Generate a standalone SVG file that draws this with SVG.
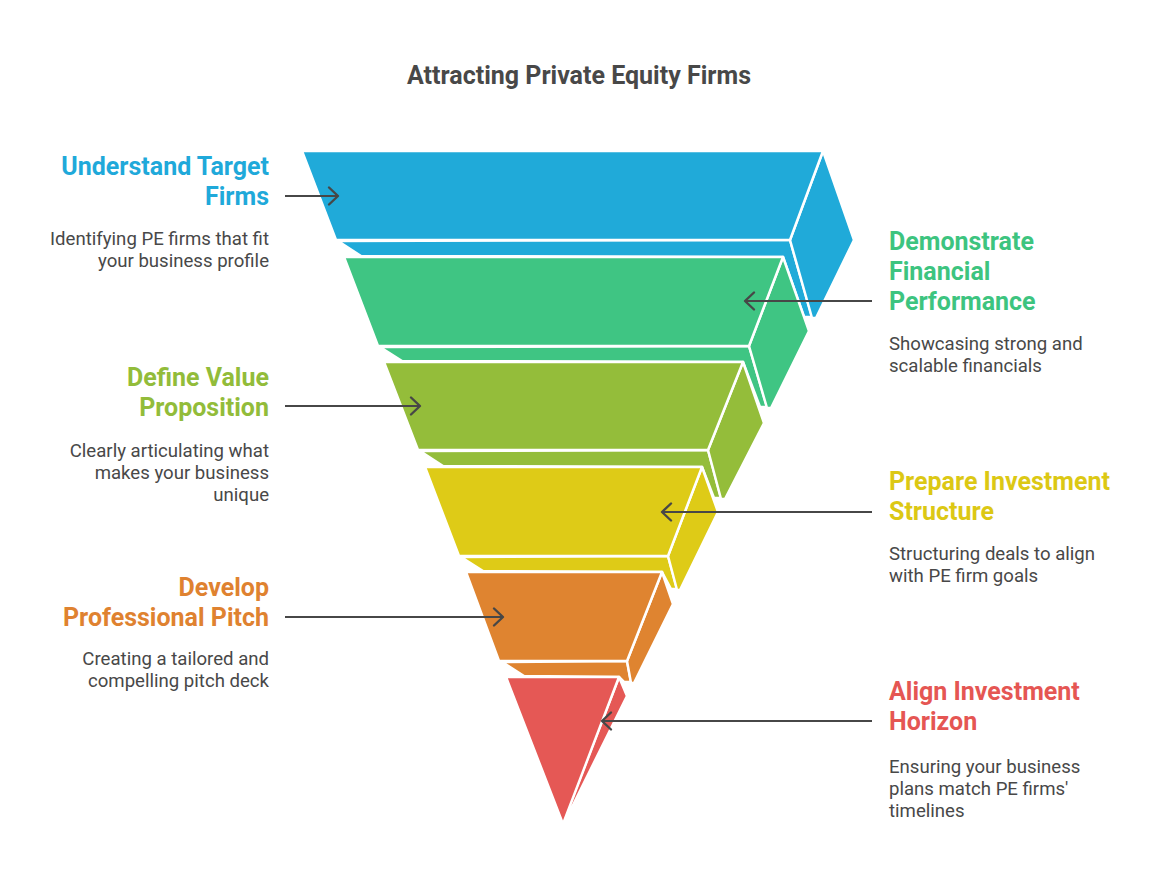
<svg xmlns="http://www.w3.org/2000/svg" width="1158" height="888" viewBox="0 0 1158 888">
<defs>
<style>
.face{stroke:#ffffff;stroke-width:2.5;stroke-linejoin:round}
.b{fill:#20AAD9}.g{fill:#3FC583}.o{fill:#94BD3A}.y{fill:#DECB17}.r{fill:#DF8430}.e{fill:#E55855}
.title{font-family:Roboto,"Liberation Sans",sans-serif;font-weight:bold;font-size:25px;fill:#484848}
.lab{font-family:Roboto,"Liberation Sans",sans-serif;font-weight:bold;font-size:25px}
.desc{font-family:Roboto,"Liberation Sans",sans-serif;font-size:18.6px;fill:#484848}
.conn{stroke:#474747;stroke-width:2;fill:none}
</style>
<marker id="arr" markerUnits="userSpaceOnUse" markerWidth="14" markerHeight="22" viewBox="0 0 14 22" refX="12" refY="11" orient="auto">
<path d="M3,2.5 L12,11 L3,19.5" fill="none" stroke="#474747" stroke-width="2.4" stroke-linecap="round" stroke-linejoin="round"/>
</marker>
</defs>
<rect width="1158" height="888" fill="#ffffff"/>
<text class="title" x="579" y="84" text-anchor="middle">Attracting Private Equity Firms</text>

<g id="layer-1">
<polygon class="face b" points="338,241 790,240 812,317 804,317 783,257 361,256"/>
<polygon class="face b" points="823,151 854,240 816,318 812,318 790,240"/>
<polygon class="face b" points="302,151 823,151 790,240 336,240"/>
</g>
<g id="layer-2">
<polygon class="face g" points="380,347 749,346 767,407 760,407 743,362 402,361"/>
<polygon class="face g" points="783,257 809,331 771,408 767,408 749,346"/>
<polygon class="face g" points="344,257 783,257 749,346 378,346"/>
</g>
<g id="layer-3">
<polygon class="face o" points="420,451 708,450 721,498 714,498 702,467 443,466"/>
<polygon class="face o" points="743,362 764,423 725,499 721,499 708,450"/>
<polygon class="face o" points="384,362 743,362 708,450 418,450"/>
</g>
<g id="layer-4">
<polygon class="face y" points="461,557 668,556 677,589 671,589 662,572 483,571"/>
<polygon class="face y" points="702,467 718,512 680,590 677,590 668,556"/>
<polygon class="face y" points="425,467 702,467 668,556 459,556"/>
</g>
<g id="layer-5">
<polygon class="face r" points="502,662 627,661 631,682 624,682 619,677 524,676"/>
<polygon class="face r" points="662,572 673,604 634,683 631,683 627,661"/>
<polygon class="face r" points="466,572 662,572 627,661 499,661"/>
</g>
<g id="layer-6">
<polygon class="face e" points="619,677 627,696 573,805 567,812"/>
<polygon class="face e" points="506,677 619,677 563,824"/>
</g>

<g id="connectors">
<line class="conn" x1="285" y1="196" x2="338" y2="196" marker-end="url(#arr)"/>
<line class="conn" x1="872" y1="301" x2="745" y2="301" marker-end="url(#arr)"/>
<line class="conn" x1="285" y1="406" x2="420" y2="406" marker-end="url(#arr)"/>
<line class="conn" x1="872" y1="512" x2="662" y2="512" marker-end="url(#arr)"/>
<line class="conn" x1="285" y1="617" x2="503" y2="617" marker-end="url(#arr)"/>
<line class="conn" x1="872" y1="721" x2="602" y2="721" marker-end="url(#arr)"/>
</g>

<g id="label-1" text-anchor="end">
<text class="lab" fill="#1FA9DA" x="269" y="175">Understand Target</text>
<text class="lab" fill="#1FA9DA" x="269" y="205">Firms</text>
<text class="desc" x="269" y="245">Identifying PE firms that fit</text>
<text class="desc" x="269" y="267">your business profile</text>
</g>
<g id="label-2">
<text class="lab" fill="#3DC47F" x="889" y="250">Demonstrate</text>
<text class="lab" fill="#3DC47F" x="889" y="280">Financial</text>
<text class="lab" fill="#3DC47F" x="889" y="310">Performance</text>
<text class="desc" x="889" y="350">Showcasing strong and</text>
<text class="desc" x="889" y="372">scalable financials</text>
</g>
<g id="label-3" text-anchor="end">
<text class="lab" fill="#92BC3A" x="269" y="386">Define Value</text>
<text class="lab" fill="#92BC3A" x="269" y="416">Proposition</text>
<text class="desc" x="269" y="457">Clearly articulating what</text>
<text class="desc" x="269" y="479">makes your business</text>
<text class="desc" x="269" y="501">unique</text>
</g>
<g id="label-4">
<text class="lab" fill="#DCC814" x="889" y="490">Prepare Investment</text>
<text class="lab" fill="#DCC814" x="889" y="520">Structure</text>
<text class="desc" x="889" y="560">Structuring deals to align</text>
<text class="desc" x="889" y="582">with PE firm goals</text>
</g>
<g id="label-5" text-anchor="end">
<text class="lab" fill="#DF8230" x="269" y="596">Develop</text>
<text class="lab" fill="#DF8230" x="269" y="626">Professional Pitch</text>
<text class="desc" x="269" y="665">Creating a tailored and</text>
<text class="desc" x="269" y="687">compelling pitch deck</text>
</g>
<g id="label-6">
<text class="lab" fill="#E55653" x="889" y="700">Align Investment</text>
<text class="lab" fill="#E55653" x="889" y="730">Horizon</text>
<text class="desc" x="889" y="773">Ensuring your business</text>
<text class="desc" x="889" y="795">plans match PE firms'</text>
<text class="desc" x="889" y="817">timelines</text>
</g>
</svg>
